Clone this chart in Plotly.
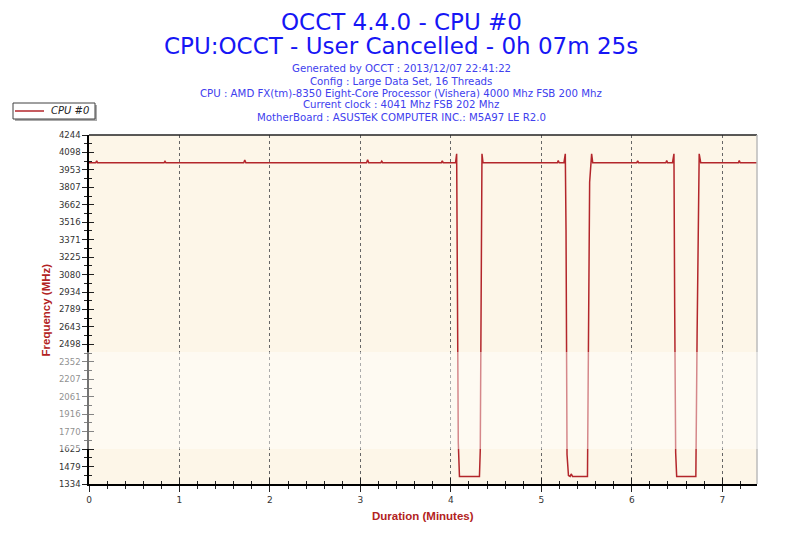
import plotly.graph_objects as go

# ---- data ----
minutes = [
    0.000,
    0.075, 0.085, 0.095,
    0.830, 0.840, 0.850,
    1.710, 1.722, 1.734,
    3.068, 3.080, 3.092,
    3.226, 3.236, 3.246,
    3.895, 3.905, 3.915,
    4.052, 4.064, 4.071, 4.082, 4.095, 4.316, 4.325, 4.335, 4.344, 4.355,
    5.177, 5.187, 5.197,
    5.250, 5.265, 5.273, 5.284, 5.300, 5.318, 5.330, 5.345, 5.510, 5.534, 5.556, 5.568,
    6.055, 6.065, 6.075,
    6.376, 6.386, 6.396,
    6.450, 6.466, 6.474, 6.485, 6.496, 6.708, 6.722, 6.745, 6.762,
    7.178, 7.188, 7.198,
    7.384,
]
freq_mhz = [
    4013,
    4013, 4028, 4013,
    4013, 4024, 4013,
    4013, 4035, 4013,
    4013, 4037, 4013,
    4013, 4026, 4013,
    4013, 4028, 4013,
    4013, 4087, 3142, 1681, 1397, 1397, 1614, 3843, 4087, 4013,
    4013, 4030, 4013,
    4013, 4087, 3455, 1580, 1405, 1397, 1418, 1397, 1397, 3850, 4087, 4013,
    4013, 4028, 4013,
    4013, 4030, 4013,
    4013, 4087, 2808, 1595, 1397, 1397, 2591, 4087, 4013,
    4013, 4030, 4013,
    4013,
]

y_tick_vals = [4244, 4098.5, 3953, 3807.5, 3662, 3516.5, 3371, 3225.5, 3080, 2934.5,
               2789, 2643.5, 2498, 2352.5, 2207, 2061.5, 1916, 1770.5, 1625, 1479.5, 1334]
y_tick_text = ["4244", "4098", "3953", "3807", "3662", "3516", "3371", "3225", "3080", "2934",
               "2789", "2643", "2498", "2352", "2207", "2061", "1916", "1770", "1625", "1479", "1334"]
x_tick_vals = [0, 1, 2, 3, 4, 5, 6, 7]

series_name = "CPU #0"
title_lines = ["OCCT 4.4.0 - CPU #0", "CPU:OCCT - User Cancelled - 0h 07m 25s"]
info_lines = [
    "Generated by OCCT : 2013/12/07 22:41:22",
    "Config : Large Data Set, 16 Threads",
    "CPU : AMD FX(tm)-8350 Eight-Core Processor (Vishera) 4000 Mhz FSB 200 Mhz",
    "Current clock : 4041 Mhz FSB 202 Mhz",
    "MotherBoard : ASUSTeK COMPUTER INC.: M5A97 LE R2.0",
]

X_MAX = 7.384
Y_MIN, Y_MAX = 1334, 4244
LINE_COLOR = "#B3262B"
FONT = "DejaVu Sans"

y_minor = [(a + b) / 2 for a, b in zip(y_tick_vals[:-1], y_tick_vals[1:])]

fig = go.Figure()
fig.add_trace(go.Scatter(
    x=minutes, y=freq_mhz, mode="lines", name=series_name,
    line=dict(color=LINE_COLOR, width=1.5), showlegend=False,
))
# empty trace to register overlay axes (ticks crossing the axis lines)
fig.add_trace(go.Scatter(x=[], y=[], xaxis="x2", yaxis="y2", showlegend=False))

# the page body has an 8px margin, so the figure sits at (8, 8) in the window
OFF = 8
W, H = 800 - OFF, 533 - OFF
L, T = 89 - OFF, 135 - OFF
R, B = W - (757 - OFF), H - (484 - OFF)
pw, ph = W - L - R, H - T - B


def px_x(x):  # screen pixel -> paper x
    return (x - OFF - L) / pw


def px_y(y):  # screen pixel -> paper y
    return (H - B - (y - OFF)) / ph


fig.update_layout(
    width=W, height=H,
    margin=dict(l=L, r=R, t=T, b=B, autoexpand=False),
    paper_bgcolor="white",
    plot_bgcolor="#FDF6E8",
    font=dict(family=FONT, color="#333333", size=9),
    showlegend=False,
    xaxis=dict(
        range=[0, X_MAX], showgrid=True, gridcolor="#666666", griddash="dot", gridwidth=1,
        tickmode="array", tickvals=x_tick_vals, ticks="outside", ticklen=6,
        tickcolor="#222222", showline=True, linecolor="black", linewidth=1.5,
        zeroline=False, tickfont=dict(size=9, color="#333333"),
        minor=dict(dtick=0.2, tick0=0, ticks="outside", ticklen=3, tickcolor="#222222", showgrid=False),
    ),
    yaxis=dict(
        range=[Y_MIN, Y_MAX], showgrid=False,
        tickmode="array", tickvals=y_tick_vals, ticktext=y_tick_text,
        ticks="outside", ticklen=5, tickcolor="#222222",
        showline=True, linecolor="black", linewidth=1.5, zeroline=False,
        tickfont=dict(size=8.5, color="#333333"),
        minor=dict(tickmode="array", tickvals=y_minor, ticks="outside", ticklen=3, tickcolor="#222222"),
    ),
    xaxis2=dict(
        overlaying="x", matches="x", anchor="y", side="bottom", showgrid=False,
        tickmode="array", tickvals=x_tick_vals, ticks="inside", ticklen=6, tickcolor="#222222",
        showticklabels=False, showline=False, zeroline=False,
        minor=dict(dtick=0.2, tick0=0, ticks="inside", ticklen=3, tickcolor="#222222"),
    ),
    yaxis2=dict(
        overlaying="y", matches="y", anchor="x", side="left", showgrid=False,
        tickmode="array", tickvals=y_tick_vals, ticks="inside", ticklen=5, tickcolor="#222222",
        showticklabels=False, showline=False, zeroline=False,
        minor=dict(tickmode="array", tickvals=y_minor, ticks="inside", ticklen=3, tickcolor="#222222"),
    ),
)

annotations = []
title_y = [22, 46]
for txt, yy in zip(title_lines, title_y):
    annotations.append(dict(text=txt, x=px_x(401), y=px_y(yy), xref="paper", yref="paper",
                            xanchor="center", yanchor="middle", showarrow=False,
                            font=dict(family=FONT, size=23, color="#1616F5")))
for i, txt in enumerate(info_lines):
    annotations.append(dict(text=txt, x=px_x(401), y=px_y(69 + 12 * i), xref="paper", yref="paper",
                            xanchor="center", yanchor="middle", showarrow=False,
                            font=dict(family=FONT, size=10.2, color="#4040EE")))
annotations.append(dict(text="<b>Duration (Minutes)</b>", x=0.5, y=px_y(516), xref="paper", yref="paper",
                        xanchor="center", yanchor="middle", showarrow=False,
                        font=dict(family="Liberation Sans", size=11.5, color="#B22222")))
annotations.append(dict(text="<b>Frequency (MHz)</b>", x=px_x(45), y=0.5, xref="paper", yref="paper",
                        xanchor="center", yanchor="middle", showarrow=False, textangle=-90,
                        font=dict(family="Liberation Sans", size=11.5, color="#B22222")))
# hand-built legend label
annotations.append(dict(text="<i>" + series_name + "</i>", x=px_x(49), y=px_y(111), xref="paper",
                        yref="paper", xanchor="left", yanchor="middle", showarrow=False,
                        font=dict(family=FONT, size=10, color="#222222")))
fig.update_layout(annotations=annotations)

fig.update_layout(shapes=[
    dict(type="line", xref="paper", yref="paper", x0=0, x1=1, y0=1, y1=1,
         line=dict(color="#222222", width=1.5)),
    dict(type="line", xref="paper", yref="paper", x0=1, x1=1, y0=0, y1=1,
         line=dict(color="#BBBBBB", width=1.5)),
    # legend box (shadow, box, line sample)
    dict(type="rect", xref="paper", yref="paper", x0=px_x(15), x1=px_x(97), y0=px_y(121), y1=px_y(105),
         fillcolor="#AAAAAA", line=dict(width=0)),
    dict(type="rect", xref="paper", yref="paper", x0=px_x(13), x1=px_x(95), y0=px_y(119), y1=px_y(103),
         fillcolor="white", line=dict(color="#404040", width=1)),
    dict(type="line", xref="paper", yref="paper", x0=px_x(15), x1=px_x(44), y0=px_y(111), y1=px_y(111),
         line=dict(color=LINE_COLOR, width=1.5)),
    # light translucent band (image watermark strip)
    dict(type="rect", xref="paper", yref="paper", x0=px_x(0), x1=px_x(800),
         y0=px_y(449), y1=px_y(352), fillcolor="white", opacity=0.45, line=dict(width=0),
         layer="above"),
])

fig.write_html("out.html")
